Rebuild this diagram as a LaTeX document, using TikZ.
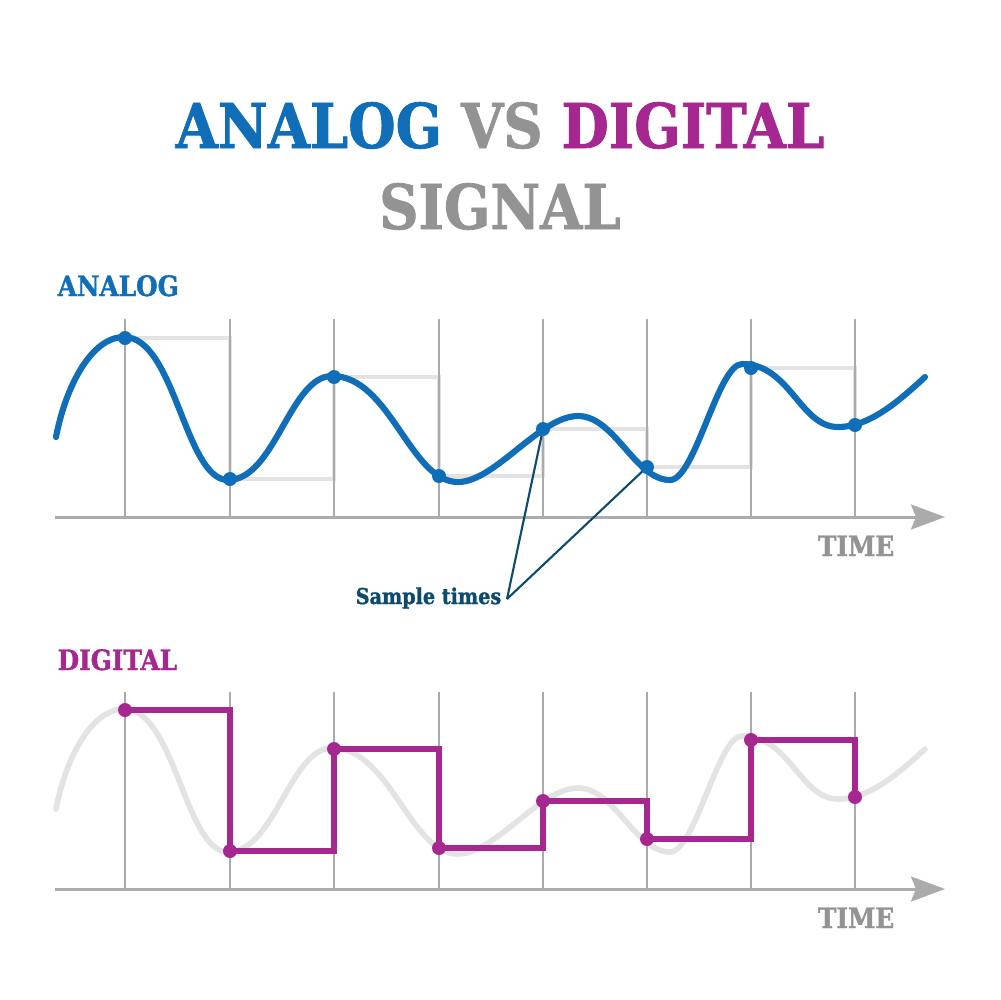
\documentclass[tikz,border=0pt]{standalone}
\usepackage{fontspec}
\usepackage{tikz}
\usetikzlibrary{arrows.meta}
\newfontfamily\slab[FakeStretch=0.88, BoldFeatures={FakeBold=1.3}]{DejaVu Serif}

\definecolor{anablue}{HTML}{0F6EB7}
\definecolor{digmag}{HTML}{A5278F}
\definecolor{titlegray}{HTML}{939393}
\definecolor{gridgray}{HTML}{ABABAB}
\definecolor{ghostgray}{HTML}{E3E3E3}
\definecolor{notedark}{HTML}{0C4A6E}

% the wave, in pixel units of the 1000x1000 sheet
\newcommand{\wavepath}{(56,437) .. controls (66,385) and (92,337) .. (124,337)
  .. controls (175,337) and (185,480) .. (228,480)
  .. controls (275,480) and (290,376) .. (332,376)
  .. controls (390,376) and (410,482) .. (458,482)
  .. controls (495,482) and (540,416) .. (578,416)
  .. controls (615,416) and (635,480) .. (670,480)
  .. controls (695,480) and (718,364) .. (742,364)
  .. controls (790,364) and (800,427) .. (838,427)
  .. controls (870,427) and (900,400) .. (925,377)}

\tikzset{
  gridline/.style={gridgray, line width=0.65pt},
  timeaxis/.style={gridgray, line width=0.85pt, -{Stealth[length=3.4mm,width=2.5mm,inset=0.5mm]}},
  hold/.style={ghostgray, line width=1.4pt},
  ghost/.style={ghostgray, line width=1.6pt, line cap=round},
  wave/.style={anablue, line width=1.75pt, line cap=round},
  steps/.style={digmag, line width=1.45pt},
  sdot/.style={circle, fill=#1, inner sep=0pt, minimum size=1.4mm},
  pointer/.style={notedark, line width=0.6pt},
  heading/.style={anchor=base west, inner sep=0pt, font=\slab\bfseries\fontsize{8}{10}\selectfont},
  timelabel/.style={anchor=base east, inner sep=0pt, titlegray, font=\slab\bfseries\fontsize{8}{10}\selectfont},
}

\begin{document}
\begin{tikzpicture}[x=0.1mm,y=-0.1mm]
\useasboundingbox (0,0) rectangle (1000,1000);

% title
\node[anchor=base, inner sep=0pt] (title) at (500,148)
  {\slab\bfseries\fontsize{17.6}{20}\selectfont{\color{anablue}ANALOG} {\color{titlegray}VS} {\color{digmag}DIGITAL}};
\node[anchor=base, inner sep=0pt, titlegray] (subtitle) at (500,229)
  {\slab\bfseries\fontsize{17.6}{20}\selectfont SIGNAL};

% sample points
\foreach \n/\x/\y in {1/125/338, 2/230/479, 3/334/377, 4/439/476,
                      5/543/429, 6/647/467, 7/751/368, 8/855/425}{
  \coordinate (a\n) at (\x,\y);
  \coordinate (d\n) at (\x,\y+372);
}

% analog panel
\node[heading, anablue] (analog) at (57,296) {ANALOG};
\draw[hold] (a1) -| (a2) -| (a3) -| (a4) -| (a5) -| (a6) -| (a7) -| (a8);
\foreach \x in {125,230,334,439,543,647,751,855}
  \draw[gridline] (\x,319) -- (\x,517);
\coordinate (atail) at (55,517);
\coordinate (ahead) at (945,517);
\draw[timeaxis] (atail) -- (ahead);
\node[timelabel] (atime) at (895,556) {TIME};
\draw[wave] \wavepath;

% sample times note
\node[anchor=base west, inner sep=0pt, notedark, font=\slab\bfseries\fontsize{6.2}{8}\selectfont] (note) at (355,604) {Sample times};
\coordinate (fork) at (507,599);
\draw[pointer] (fork) -- (a5);
\draw[pointer] (fork) -- (a6);
\foreach \n in {1,...,8}
  \node[sdot=anablue] (ad\n) at (a\n) {};

% digital panel
\node[heading, digmag] (digital) at (57,670) {DIGITAL};
\begin{scope}[shift={(0,372)}]
  \draw[ghost] \wavepath;
\end{scope}
\foreach \x in {125,230,334,439,543,647,751,855}
  \draw[gridline] (\x,692) -- (\x,889);
\coordinate (dtail) at (55,889);
\coordinate (dhead) at (945,889);
\draw[timeaxis] (dtail) -- (dhead);
\node[timelabel] (dtime) at (895,928) {TIME};
\draw[steps] (d1) -| (d2) -| (d3) -| (d4) -| (d5) -| (d6) -| (d7) -| (d8);
\foreach \n in {1,...,8}
  \node[sdot=digmag] (dd\n) at (d\n) {};
\end{tikzpicture}
\end{document}
